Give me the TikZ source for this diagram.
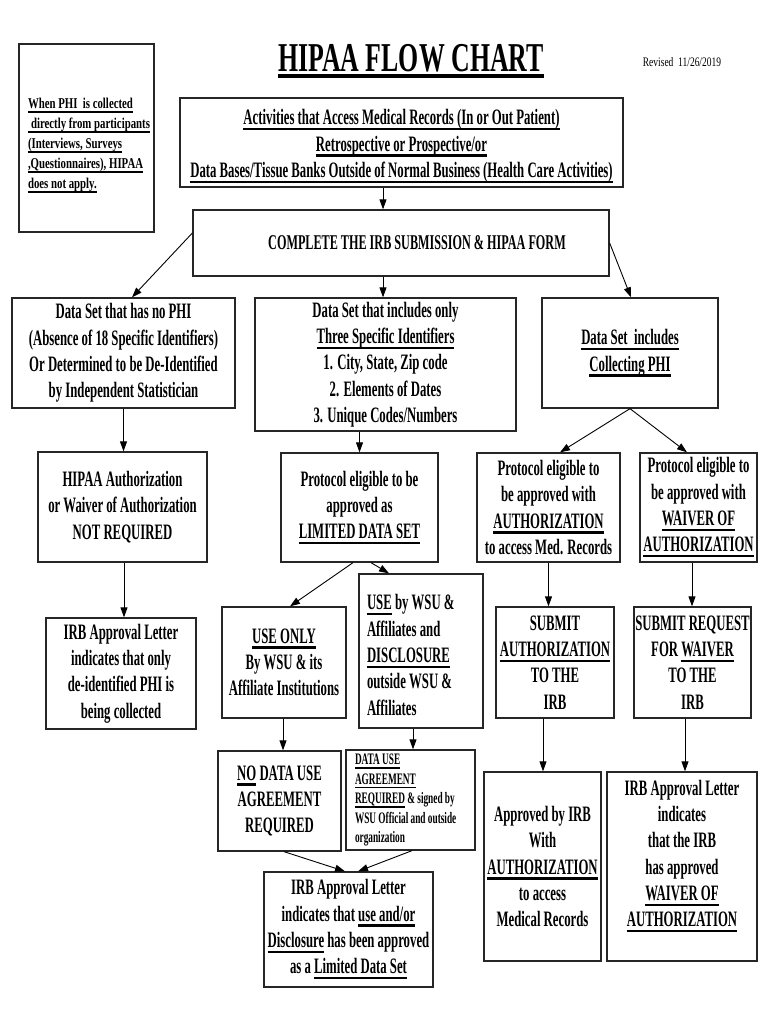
\documentclass[tikz,border=0pt]{standalone}
\usepackage{fontspec}
\setmainfont{Liberation Serif}[FakeStretch=0.58]
\newfontfamily\titlefont{Liberation Serif}[FakeStretch=0.63]
\newfontfamily\revfont{Liberation Serif}[FakeStretch=0.73]
\newfontfamily\notefont{Liberation Serif}[FakeStretch=0.72]
\usetikzlibrary{arrows.meta}
\newsavebox\ulbox
\newcommand\ulx[1]{\leavevmode\sbox\ulbox{#1}\rlap{\rule[-0.25em]{\wd\ulbox}{0.11em}}\usebox\ulbox}
\newcommand\ultitle[1]{\leavevmode\sbox\ulbox{#1}\rlap{\rule[-6pt]{\wd\ulbox}{4pt}}\usebox\ulbox}
\newcommand\mf{\fontsize{22}{26.3}\selectfont\bfseries}
\newcommand\lblock[2]{\makebox[#1][l]{\begin{tabular}{@{}l@{}}#2\end{tabular}}}
\newcommand\bx[7][]{\node[box,minimum width={(#5-#3)*1pt},minimum height={(#6-#4)*1pt},#1] (#2) at ({(#3+#5)/2},{(#4+#6)/2}) {#7};}
\tikzset{
  box/.style={draw=black!85,line width=1.3pt,inner sep=0pt,align=center,font=\mf},
  arr/.style={line width=0.9pt,-{Triangle[length=10pt,width=7pt]}},
}
\begin{document}
\begin{tikzpicture}[x=1pt,y=-1pt]
\useasboundingbox (0,0) rectangle (770,1024);
% title
\node[anchor=base,inner sep=0pt,font=\titlefont\fontsize{41}{41}\selectfont\bfseries] (title) at (411,72) {\ultitle{HIPAA FLOW CHART}};
\node[anchor=base,inner sep=0pt,font=\revfont\fontsize{13}{13}\selectfont] (rev) at (682,67) {Revised\ \ 11/26/2019};
% left note
\bx[font=\notefont\fontsize{15}{20}\selectfont\bfseries]{note}{19}{44}{154}{232}{\lblock{117pt}{\rule{0pt}{28pt}\ulx{When PHI\ \ is collected}\\\ulx{\hspace{0.2em}directly from participants}\\\ulx{(Interviews, Surveys}\\\ulx{,Questionnaires), HIPAA}\\\ulx{does not apply.}}}
% top boxes
\bx{top}{180}{98}{623}{187}{\rule{0pt}{23pt}\ulx{Activities that Access Medical Records (In or Out Patient)}\\\ulx{Retrospective or Prospective/or}\\\ulx{Data Bases/Tissue Banks Outside of Normal Business (Health Care Activities)}}
\bx[font=\fontsize{21}{24}\selectfont\bfseries]{comp}{193}{210}{609}{276}{\hspace*{32pt}COMPLETE THE IRB SUBMISSION \& HIPAA FORM}
% row 2
\bx{A}{12}{298}{235}{408}{Data Set that has no PHI\\(Absence of 18 Specific Identifiers)\\Or Determined to be De-Identified\\by Independent Statistician}
\bx{B}{255}{298}{516}{431}{Data Set that includes only\\\ulx{Three Specific Identifiers}\\1. City, State, Zip code\\2. Elements of Dates\\3. Unique Codes/Numbers}
\bx{C}{542}{298}{718}{408}{\ulx{Data Set~ includes}\\\ulx{Collecting PHI}}
% row 3
\bx{D}{38}{452}{207}{562}{HIPAA Authorization\\or Waiver of Authorization\\NOT REQUIRED}
\bx{E}{281}{453}{438}{562}{Protocol eligible to be\\approved as\\\ulx{LIMITED DATA SET}}
\bx{F}{477}{453}{620}{562}{Protocol eligible to\\be approved with\\\ulx{AUTHORIZATION}\\to access Med. Records}
\bx{G}{640}{453}{757}{562}{Protocol eligible to\\be approved with\\\ulx{WAIVER OF}\\\ulx{AUTHORIZATION}}
% row 4
\bx{H}{46}{618}{196}{729}{IRB Approval Letter\\indicates that only\\de-identified PHI is\\being collected}
\bx{I}{222}{607}{346}{718}{\ulx{USE ONLY}\\By WSU \& its\\Affiliate Institutions}
\bx{J}{359}{574}{483}{728}{\lblock{108pt}{\rule{0pt}{31pt}\ulx{USE} by WSU \&\\Affiliates and\\\ulx{DISCLOSURE}\\outside WSU \&\\Affiliates}}
\bx{K}{496}{607}{614}{718}{SUBMIT\\\ulx{AUTHORIZATION}\\TO THE\\IRB}
\bx{L}{634}{607}{751}{718}{SUBMIT REQUEST\\FOR \ulx{WAIVER}\\TO THE\\IRB}
% row 5
\bx{M}{218}{751}{341}{851}{\ulx{NO} DATA USE\\AGREEMENT\\REQUIRED}
\bx[font=\fontsize{16}{19.5}\selectfont\bfseries]{N}{346}{750}{475}{850}{\lblock{111pt}{\ulx{DATA USE}\\\ulx{AGREEMENT}\\\ulx{REQUIRED} \& signed by\\WSU Official and outside\\organization}}
\bx{O}{264}{872}{433}{987}{IRB Approval Letter\\indicates that \ulx{use and/or}\\\ulx{Disclosure} has been approved\\as a \ulx{Limited Data Set}}
\bx{P}{484}{772}{601}{961}{Approved by IRB\\With\\\ulx{AUTHORIZATION}\\to access\\Medical Records}
\bx{Q}{607}{772}{757}{961}{IRB Approval Letter\\indicates\\that the IRB\\has approved\\\ulx{WAIVER OF}\\\ulx{AUTHORIZATION}\\~}
% connectors
\draw[arr] ([xshift=-18.5pt]top.south) -- ([xshift=-18pt]comp.north);
\draw[arr] ([yshift=10pt]comp.west) -- ([xshift=8.5pt]A.north);
\draw[arr] ([xshift=-18pt]comp.south) -- ([xshift=-2.5pt]B.north);
\draw[arr] (comp.east) -- ([xshift=1pt]C.north);
\draw[arr] (A.south) -- ([xshift=1pt]D.north);
\draw[arr] ([xshift=-26pt]B.south) -- (E.north);
\draw[arr] (C.south) -- ([xshift=11.5pt]F.north);
\draw[arr] (C.south) -- ([xshift=-11.5pt]G.north);
\draw[arr] ([xshift=1.5pt]D.south) -- ([xshift=3pt]H.north);
\draw[arr] ([xshift=-6.5pt]E.south) -- ([xshift=6pt]I.north);
\draw[arr] ([xshift=11.5pt]E.south) -- ([xshift=-32pt]J.north);
\draw[arr] (F.south) -- ([xshift=-6.5pt]K.north);
\draw[arr] ([xshift=-6.5pt]G.south) -- ([xshift=-0.5pt]L.north);
\draw[arr] ([xshift=-1pt]I.south) -- ([xshift=3.5pt]M.north);
\draw[arr] ([xshift=-8pt]J.south) -- ([xshift=2.5pt]N.north);
\draw[arr] ([xshift=-12pt]K.south) -- ([xshift=0.5pt]P.north);
\draw[arr] ([xshift=-7.5pt]L.south) -- ([xshift=3pt]Q.north);
\draw[arr] ([xshift=4.5pt]M.south) -- ([xshift=-3.5pt]O.north);
\draw[arr] ([xshift=1.5pt]N.south) -- ([xshift=9.5pt]O.north);
\end{tikzpicture}
\end{document}
